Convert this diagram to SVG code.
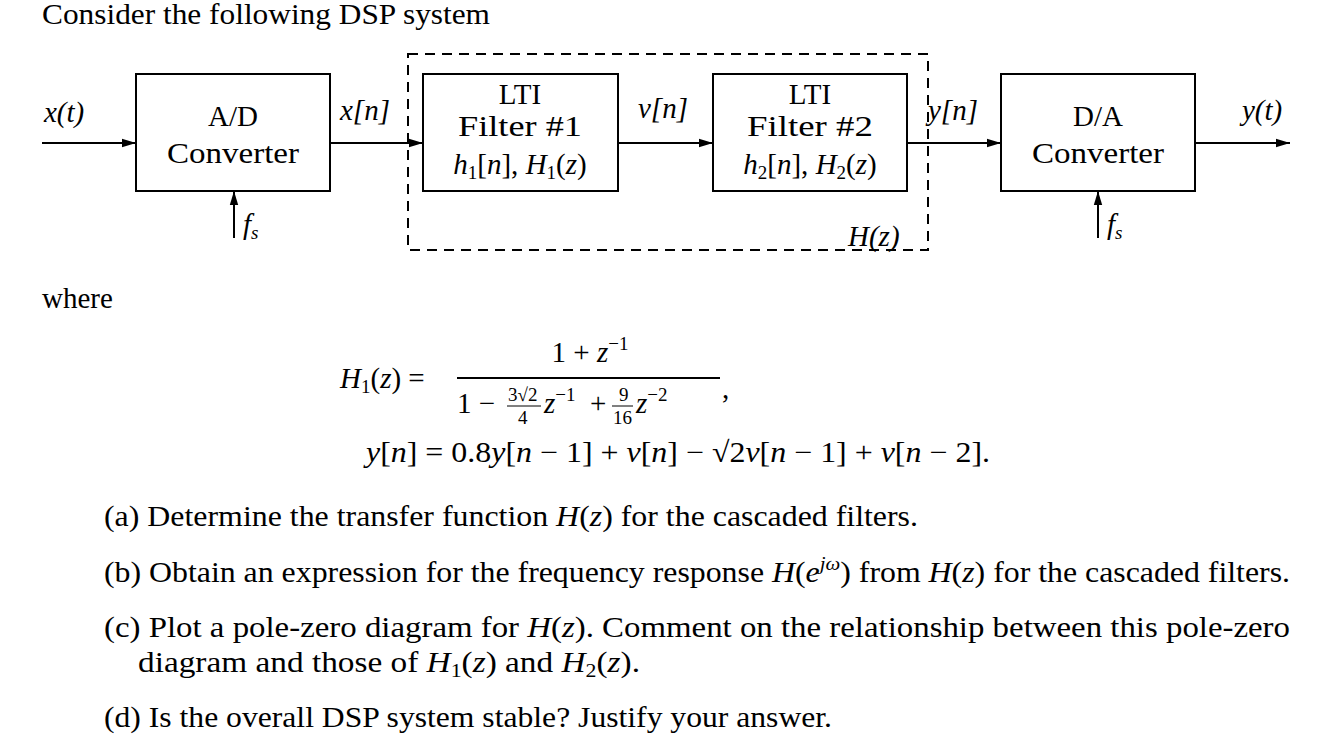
<svg xmlns="http://www.w3.org/2000/svg" width="1318" height="742" viewBox="0 0 1318 742">
<style>
text{font-family:"Liberation Serif","DejaVu Serif",serif;font-size:29px;fill:#000}
.i{font-style:italic}
.m{text-anchor:middle}
.s{font-size:19px}
.box{fill:#fff;stroke:#000;stroke-width:2}
.ln{stroke:#000;stroke-width:2;fill:none}
</style>
<defs><marker id="b" viewBox="0 0 10 10" refX="10" refY="5" markerWidth="14" markerHeight="14" orient="auto" markerUnits="userSpaceOnUse"><path d="M0,2 L10,5 L0,8 z"/></marker></defs>
<rect width="1318" height="742" fill="#fff"/>
<text x="42" y="24" textLength="448" lengthAdjust="spacingAndGlyphs">Consider the following DSP system</text>
<rect x="408" y="54" width="520" height="196" fill="none" stroke="#000" stroke-width="2" stroke-dasharray="10,7"/>
<g id="connectors">
<line class="ln" x1="42" y1="143" x2="136" y2="143" marker-end="url(#b)"/>
<line class="ln" x1="330" y1="143" x2="423" y2="143" marker-end="url(#b)"/>
<line class="ln" x1="618" y1="143" x2="713" y2="143" marker-end="url(#b)"/>
<line class="ln" x1="907" y1="143" x2="1001" y2="143" marker-end="url(#b)"/>
<line class="ln" x1="1195" y1="143" x2="1290" y2="143" marker-end="url(#b)"/>
<line class="ln" x1="234" y1="238" x2="234" y2="191" marker-end="url(#b)"/>
<line class="ln" x1="1098" y1="238" x2="1098" y2="191" marker-end="url(#b)"/>
</g>
<text x="44" y="122" class="i">x(t)</text>
<text x="340" y="120" class="i">x[n]</text>
<text x="638" y="118" class="i">v[n]</text>
<text x="928" y="120" class="i">y[n]</text>
<text x="1242" y="120" class="i">y(t)</text>
<text x="243" y="234" class="i">f<tspan class="s" dy="5">s</tspan></text>
<text x="1107" y="234" class="i">f<tspan class="s" dy="5">s</tspan></text>
<text x="848" y="246" class="i">H(z)</text>
<g id="ad"><rect class="box" x="136" y="74" width="194" height="117"/><text x="233" y="126" class="m">A/D</text><text x="233" y="163" class="m" textLength="132" lengthAdjust="spacingAndGlyphs">Converter</text></g>
<g id="f1"><rect class="box" x="423" y="74" width="195" height="117"/><text x="520" y="104" class="m">LTI</text><text x="520" y="136" class="m" textLength="124" lengthAdjust="spacingAndGlyphs">Filter #1</text><text x="520" y="174" class="m"><tspan class="i">h</tspan><tspan class="s" dy="5">1</tspan><tspan dy="-5">[</tspan><tspan class="i">n</tspan>], <tspan class="i">H</tspan><tspan class="s" dy="5">1</tspan><tspan dy="-5">(</tspan><tspan class="i">z</tspan>)</text></g>
<g id="f2"><rect class="box" x="713" y="74" width="194" height="117"/><text x="810" y="104" class="m">LTI</text><text x="810" y="136" class="m" textLength="126" lengthAdjust="spacingAndGlyphs">Filter #2</text><text x="810" y="174" class="m"><tspan class="i">h</tspan><tspan class="s" dy="5">2</tspan><tspan dy="-5">[</tspan><tspan class="i">n</tspan>], <tspan class="i">H</tspan><tspan class="s" dy="5">2</tspan><tspan dy="-5">(</tspan><tspan class="i">z</tspan>)</text></g>
<g id="da"><rect class="box" x="1001" y="74" width="194" height="117"/><text x="1098" y="126" class="m">D/A</text><text x="1098" y="163" class="m" textLength="132" lengthAdjust="spacingAndGlyphs">Converter</text></g>
<text x="42" y="308">where</text>
<text x="340" y="388"><tspan class="i">H</tspan><tspan class="s" dy="5">1</tspan><tspan dy="-5">(</tspan><tspan class="i">z</tspan>) =</text>
<text x="590" y="362" class="m">1 + <tspan class="i">z</tspan><tspan class="s" dy="-12">−1</tspan></text>
<line class="ln" x1="457" y1="378" x2="720" y2="378" stroke-width="1.5"/>
<text x="457" y="413">1 −</text>
<text x="508" y="401" class="s">3√2</text><line x1="507" y1="406" x2="541" y2="406" stroke="#000"/><text x="518" y="424" class="s">4</text>
<text x="544" y="413" class="i">z<tspan class="s" dy="-12" font-style="normal">−1</tspan></text>
<text x="590" y="413">+</text>
<text x="619" y="401" class="s">9</text><line x1="612" y1="406" x2="633" y2="406" stroke="#000"/><text x="613" y="424" class="s">16</text>
<text x="636" y="413" class="i">z<tspan class="s" dy="-12" font-style="normal">−2</tspan></text>
<text x="722" y="398">,</text>
<text x="366" y="462" textLength="624" lengthAdjust="spacingAndGlyphs"><tspan class="i">y</tspan>[<tspan class="i">n</tspan>] = 0.8<tspan class="i">y</tspan>[<tspan class="i">n</tspan> − 1] + <tspan class="i">v</tspan>[<tspan class="i">n</tspan>] − √2<tspan class="i">v</tspan>[<tspan class="i">n</tspan> − 1] + <tspan class="i">v</tspan>[<tspan class="i">n</tspan> − 2].</text>
<text x="104" y="526" textLength="814" lengthAdjust="spacingAndGlyphs">(a)  Determine the transfer function <tspan class="i">H</tspan>(<tspan class="i">z</tspan>) for the cascaded filters.</text>
<text x="104" y="582" textLength="1186" lengthAdjust="spacingAndGlyphs">(b)  Obtain an expression for the frequency response <tspan class="i">H</tspan>(<tspan class="i">e</tspan><tspan class="s i" dy="-12">jω</tspan><tspan dy="12">) from </tspan><tspan class="i">H</tspan>(<tspan class="i">z</tspan>) for the cascaded filters.</text>
<text x="104" y="637" textLength="1186" lengthAdjust="spacingAndGlyphs">(c)  Plot a pole-zero diagram for <tspan class="i">H</tspan>(<tspan class="i">z</tspan>).  Comment on the relationship between this pole-zero</text>
<text x="138" y="672" textLength="502" lengthAdjust="spacingAndGlyphs">diagram and those of <tspan class="i">H</tspan><tspan class="s" dy="5">1</tspan><tspan dy="-5">(</tspan><tspan class="i">z</tspan>) and <tspan class="i">H</tspan><tspan class="s" dy="5">2</tspan><tspan dy="-5">(</tspan><tspan class="i">z</tspan>).</text>
<text x="104" y="727" textLength="728" lengthAdjust="spacingAndGlyphs">(d)  Is the overall DSP system stable? Justify your answer.</text>
</svg>
